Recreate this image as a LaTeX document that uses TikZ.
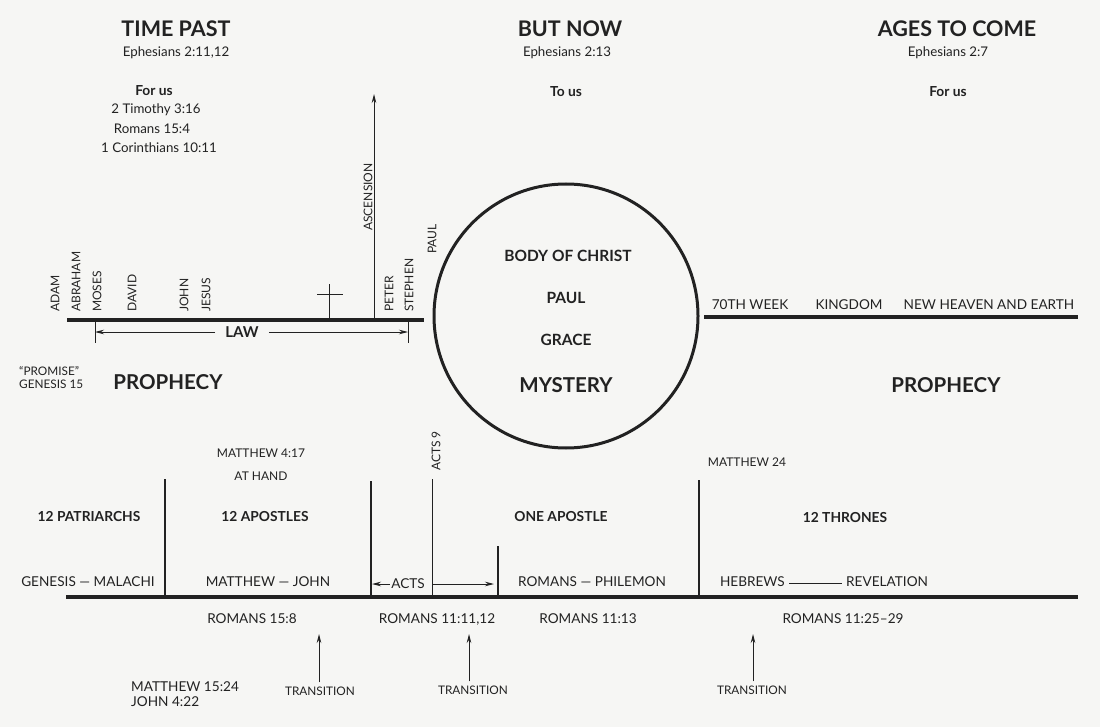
\documentclass[tikz,border=0pt]{standalone}
\usepackage{fontspec}
\setmainfont{Lato}
\usetikzlibrary{arrows.meta,calc}
\definecolor{ink}{HTML}{222222}
\definecolor{paper}{HTML}{F6F6F4}
\begin{document}
\begin{tikzpicture}[x=1pt,y=-1pt,
  every node/.style={inner sep=0pt,text=ink},
  hdr/.style={font=\fontsize{21.5}{24}\selectfont\bfseries},
  big/.style={font=\fontsize{20.5}{23}\selectfont\bfseries},
  refs/.style={font=\fontsize{13.3}{15}\selectfont},
  bsm/.style={font=\fontsize{13.8}{15}\selectfont\bfseries},
  lab/.style={font=\fontsize{12}{13}\selectfont},
  book/.style={font=\fontsize{13.6}{15}\selectfont},
  era/.style={font=\fontsize{13.8}{15}\selectfont\bfseries},
  circ/.style={font=\fontsize{15.5}{17}\selectfont\bfseries},
  tiny/.style={font=\fontsize{11.8}{13}\selectfont},
  vlab/.style={lab,rotate=90,anchor=west},
  tline/.style={draw=ink,line width=3.2pt},
  vline/.style={draw=ink,line width=1.6pt},
  thin/.style={draw=ink,line width=0.9pt},
  arr/.style={thin,-{Stealth[length=9pt,width=4.5pt]}}
]
\useasboundingbox[fill=paper] (0,0) rectangle (1100,727);

% headers
\node[hdr] (tp) at (176,29) {TIME PAST};
\node[refs] (tpe) at (176,53) {Ephesians 2:11,12};
\node[bsm] (fu1) at (154,91) {For us};
\node[refs] (r1) at (156,110) {2 Timothy 3:16};
\node[refs] (r2) at (152,129) {Romans 15:4};
\node[refs] (r3) at (159,148) {1 Corinthians 10:11};
\node[hdr] (bn) at (570,29) {BUT NOW};
\node[refs] (bne) at (567,53) {Ephesians 2:13};
\node[bsm] (tu) at (566,92) {To us};
\node[hdr] (atc) at (957,29) {AGES TO COME};
\node[refs] (atce) at (948,53) {Ephesians 2:7};
\node[bsm] (fu2) at (948,92) {For us};

% circle
\node[circle,draw=ink,line width=3pt,minimum size=264pt] (c) at (566,316) {};
\node[circ] (boc) at (568,256) {BODY OF CHRIST};
\node[circ] (cp) at (566,298) {PAUL};
\node[circ] (cg) at (566,340) {GRACE};
\node[big] (my) at (566,385) {MYSTERY};

% top left timeline
\coordinate (tl0) at (67,320);
\coordinate (tl1) at (424,320);
\draw[tline] (tl0) -- (tl1);
\node[vlab] (adam) at (55,312) {ADAM};
\node[vlab] (abr) at (76,312) {ABRAHAM};
\node[vlab] (mos) at (97,312) {MOSES};
\node[vlab] (dav) at (132,312) {DAVID};
\node[vlab] (joh) at (184,312) {JOHN};
\node[vlab] (jes) at (206,312) {JESUS};
\node[vlab] (pet) at (389,312) {PETER};
\node[vlab] (ste) at (409,312) {STEPHEN};
\node[vlab] (paul) at (432,254) {PAUL};
% cross
\coordinate (cr0) at (329,320);
\coordinate (cr1) at (329,284);
\coordinate (cr2) at (317,294);
\coordinate (cr3) at (343,294);
\draw[thin] (cr0) -- (cr1);
\draw[thin] (cr2) -- (cr3);
% ascension
\coordinate (as0) at (374,320);
\coordinate (as1) at (374,94);
\draw[arr] (as0) -- (as1);
\node[lab,rotate=90] (asc) at (368,197) {ASCENSION};
% law
\coordinate (lt0) at (95,320);
\coordinate (lt1) at (95,343);
\coordinate (rt0) at (408,320);
\coordinate (rt1) at (408,343);
\draw[thin] (lt0) -- (lt1);
\draw[thin] (rt0) -- (rt1);
\node[font=\fontsize{15}{17}\selectfont\bfseries] (law) at (242,332) {LAW};
\coordinate (la) at (95,332);
\coordinate (lb) at (408,332);
\draw[arr] ($(law.west)+(-10,0)$) -- (la);
\draw[arr] ($(law.east)+(10,0)$) -- (lb);
\node[tiny,align=left,anchor=west] (prom) at (19,378) {“PROMISE”\\GENESIS 15};
\node[big] (pro1) at (168,382) {PROPHECY};

% top right timeline
\coordinate (tr0) at (704,317);
\coordinate (tr1) at (1078,317);
\draw[tline] (tr0) -- (tr1);
\node[book] (w70) at (750,305) {70TH WEEK};
\node[book] (kin) at (849,305) {KINGDOM};
\node[book] (nhe) at (989,305) {NEW HEAVEN AND EARTH};
\node[big] (pro2) at (946,385) {PROPHECY};

% bottom timeline
\coordinate (b0) at (66,597);
\coordinate (b1) at (1078,597);
\draw[tline] (b0) -- (b1);
\coordinate (v1a) at (165,597); \coordinate (v1b) at (165,479);
\coordinate (v2a) at (371,597); \coordinate (v2b) at (371,481);
\coordinate (v3a) at (432,597); \coordinate (v3b) at (432,479);
\coordinate (v4a) at (498,597); \coordinate (v4b) at (498,546);
\coordinate (v5a) at (699,597); \coordinate (v5b) at (699,480);
\draw[vline] (v1a) -- (v1b);
\draw[vline] (v2a) -- (v2b);
\draw[thin] (v3a) -- (v3b);
\draw[vline] (v4a) -- (v4b);
\draw[vline] (v5a) -- (v5b);
\node[vlab] (a9) at (436,471) {ACTS 9};

\node[lab] (m417) at (261,453) {MATTHEW 4:17};
\node[lab] (ath) at (261,476) {AT HAND};
\node[lab] (m24) at (747,462) {MATTHEW 24};
\node[era] (pat) at (89,517) {12 PATRIARCHS};
\node[era] (apo) at (265,517) {12 APOSTLES};
\node[era] (one) at (561,517) {ONE APOSTLE};
\node[era] (thr) at (845,518) {12 THRONES};

\node[book] (gm) at (88,582) {GENESIS — MALACHI};
\node[book] (mj) at (268,582) {MATTHEW — JOHN};
\node[book] (acts) at (408,584) {ACTS};
\coordinate (ac0) at (372,584);
\coordinate (ac1) at (494,584);
\draw[arr] ($(acts.west)+(-1,0)$) -- (ac0);
\draw[arr] ($(acts.east)+(8,0)$) -- (ac1);
\node[book] (rp) at (592,582) {ROMANS — PHILEMON};
\node[book,anchor=east] (heb) at (785,582) {HEBREWS};
\node[book,anchor=west] (rev) at (846,582) {REVELATION};
\draw[thin] ($(heb.east)+(4,1)$) -- ($(rev.west)+(-4,1)$);

\node[book] (r158) at (252,619) {ROMANS 15:8};
\node[book] (r1111) at (437,619) {ROMANS 11:11,12};
\node[book] (r1113) at (588,619) {ROMANS 11:13};
\node[book] (r1125) at (843,619) {ROMANS 11:25–29};

\node[book,align=left,anchor=west] (m1524) at (131,694) {MATTHEW 15:24\\JOHN 4:22};
\node[tiny] (t1) at (320,691) {TRANSITION};
\node[tiny] (t2) at (473,690) {TRANSITION};
\node[tiny] (t3) at (752,690) {TRANSITION};
\coordinate (t1a) at (319,634);
\coordinate (t2a) at (469,634);
\coordinate (t3a) at (753,634);
\draw[arr] ($(t1.north -| t1a)+(0,-4)$) -- (t1a);
\draw[arr] ($(t2.north -| t2a)+(0,-4)$) -- (t2a);
\draw[arr] ($(t3.north -| t3a)+(0,-4)$) -- (t3a);
\end{tikzpicture}
\end{document}
